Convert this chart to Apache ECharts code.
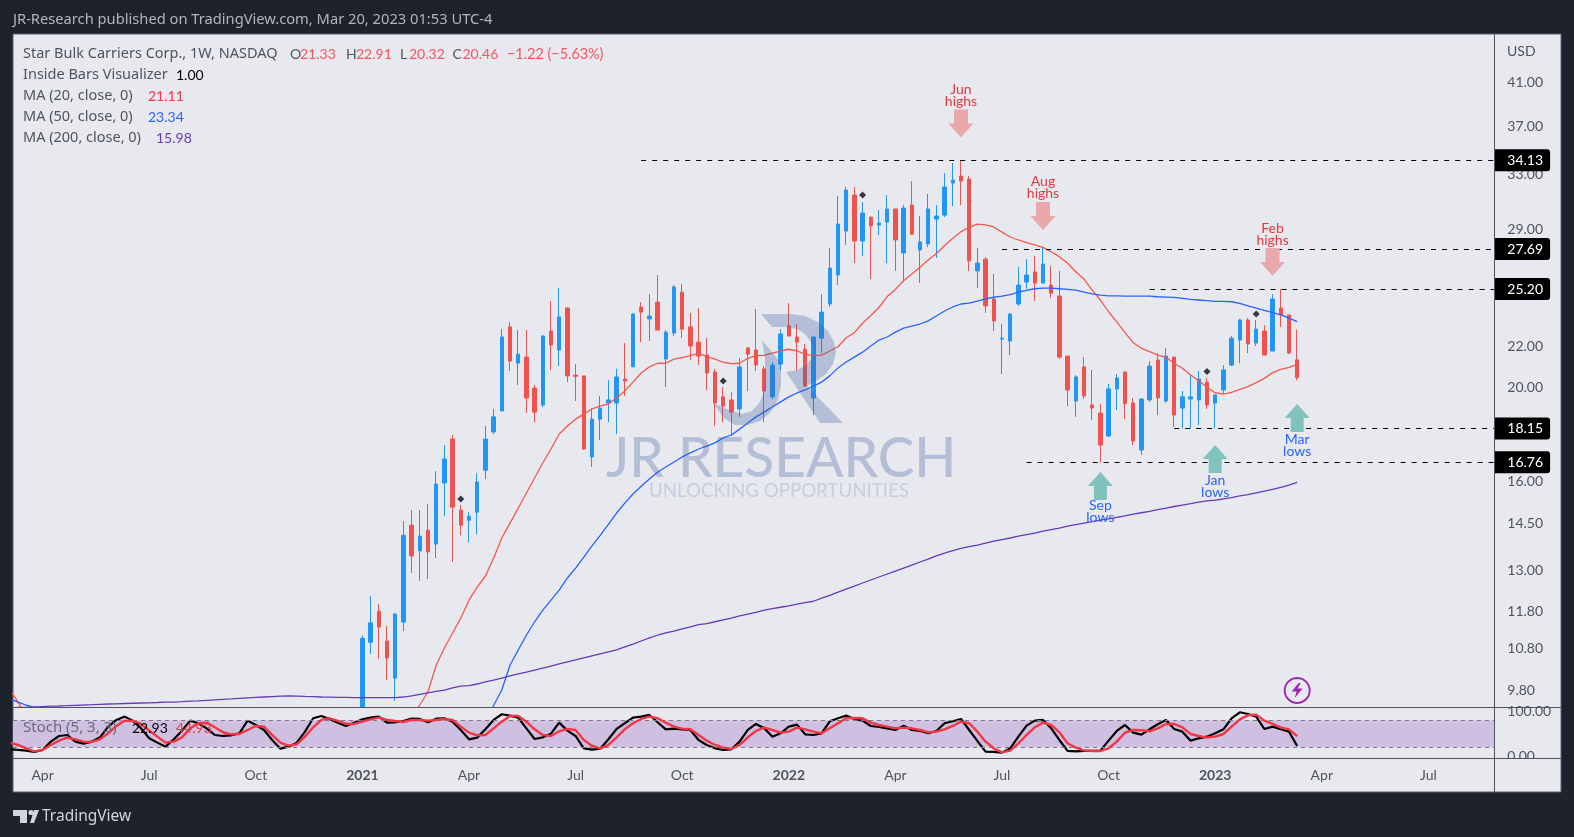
<!DOCTYPE html>
<html>
<head>
<meta charset="utf-8">
<title>SBLK weekly</title>
<style>
html, body { margin: 0; padding: 0; background: #1e222d; }
#chart { width: 1574px; height: 837px; }
</style>
<script src="https://cdn.jsdelivr.net/npm/echarts@6/dist/echarts.min.js"></script>
</head>
<body>
<div id="chart"></div>
<script>
// weekly bars, first candle is the week of Jan 4 2021
const firstWeek = Date.UTC(2021, 0, 4);
const opens = [
    9.42,10.97,11.80,11.00,10.08,11.50,14.45,13.60,14.28,13.82,
    15.96,17.70,14.97,14.62,14.90,16.45,18.00,18.91,23.05,21.17,
    21.47,19.96,19.18,22.83,21.83,24.10,20.58,20.54,16.97,18.55,
    19.27,19.27,20.39,20.98,24.16,23.49,24.44,21.37,22.72,25.02,
    23.05,22.24,21.57,20.73,19.55,19.41,19.00,21.94,21.83,20.88,
    19.55,21.12,23.10,22.51,21.88,19.50,22.45,24.33,26.05,28.89,
    31.45,28.22,29.86,29.30,29.51,30.43,27.43,30.72,27.63,28.03,
    29.72,30.00,32.35,32.89,32.66,26.30,27.04,24.62,22.40,22.30,
    24.33,25.62,26.24,25.56,25.44,24.79,21.52,19.36,20.98,19.18,
    18.82,17.83,19.92,20.73,19.27,17.25,19.41,21.32,19.36,21.47,
    19.04,19.45,19.41,20.24,19.27,19.87,21.07,22.35,23.43,22.19,
    22.83,21.78,24.10,23.71,21.33
];
const closes = [
    11.07,11.48,11.37,10.57,11.72,14.11,13.44,14.08,13.57,15.92,
    16.89,15.08,14.45,14.76,16.00,17.70,18.65,22.51,21.27,21.62,
    19.50,18.86,22.56,22.09,23.60,20.54,20.52,17.29,18.55,19.04,
    19.41,20.49,20.29,23.76,23.87,23.65,22.88,22.77,25.32,22.93,
    22.04,21.52,20.68,19.27,19.13,18.86,20.98,21.62,21.07,19.82,
    21.07,22.67,22.56,22.24,20.05,22.51,23.87,26.48,29.37,31.82,
    28.22,30.14,29.24,29.44,30.43,28.29,30.50,28.68,28.16,30.43,
    29.93,32.05,32.58,32.50,26.92,26.79,24.22,23.38,22.45,23.76,
    25.44,26.05,25.56,26.73,24.96,21.47,19.87,20.49,19.59,19.04,
    17.45,19.92,20.44,19.23,17.62,19.45,21.02,19.50,21.52,18.73,
    19.55,19.55,20.39,19.18,19.64,20.83,22.45,23.43,22.14,22.93,
    21.57,24.62,23.71,21.68,20.46
];
const lows = [
    9.42,10.67,10.55,10.03,9.55,11.26,12.91,12.67,12.73,13.37,
    14.76,13.25,14.11,13.88,14.14,16.11,17.91,18.91,20.78,20.10,
    18.82,18.42,19.09,20.83,21.02,20.24,19.36,17.25,16.57,17.66,
    18.42,17.91,19.59,20.98,22.24,22.30,22.88,20.01,22.56,22.45,
    21.32,21.07,19.87,18.25,18.42,17.83,18.65,19.82,20.78,18.42,
    19.45,20.83,22.56,20.78,20.05,18.73,21.67,24.16,25.44,27.96,
    26.79,27.24,25.80,28.62,26.79,26.30,25.62,28.62,25.56,27.83,
    27.11,29.86,30.65,30.72,26.30,25.26,23.82,22.83,20.63,21.57,
    24.22,25.20,24.50,25.56,24.68,21.37,19.13,18.65,19.45,18.51,
    16.76,17.78,18.95,18.55,17.45,17.05,19.32,18.73,19.27,18.21,
    18.15,18.15,18.29,19.00,18.15,19.69,21.02,21.17,21.67,22.04,
    21.57,21.78,23.05,21.62,20.32
];
const highs = [
    11.15,12.23,12.00,11.40,11.75,14.59,14.97,14.97,15.18,16.41,
    17.45,17.87,15.15,14.90,16.33,18.25,19.00,22.93,23.32,22.88,
    22.88,20.10,22.61,24.50,25.26,24.16,21.12,20.54,19.04,19.59,
    20.34,20.88,22.19,23.82,24.44,24.90,26.05,22.88,25.44,25.50,
    23.82,24.10,22.45,20.88,20.01,19.78,21.42,21.99,24.05,21.02,
    21.22,22.93,24.38,23.21,22.14,22.51,24.90,27.76,31.38,32.05,
    32.05,30.93,29.86,30.36,31.45,30.43,30.72,32.50,29.93,31.53,
    30.72,33.12,33.92,34.13,32.89,27.76,27.17,26.11,23.21,23.82,
    26.55,27.04,27.24,27.85,26.61,26.30,21.52,20.58,21.47,20.83,
    19.23,20.15,20.63,20.73,19.50,19.50,21.27,21.67,21.94,21.47,
    19.82,20.63,20.78,20.44,19.64,21.07,22.56,23.49,23.54,23.43,
    23.15,24.90,25.20,23.71,22.91
];

// moving averages, the *Start value is the week offset of the first item
const ma20EarlyStart = -43;
const ma20Early = [9.80, 9.53, 9.20];
const ma20Start = 6;
const ma20 = [
    9.15,9.46,9.76,10.39,10.82,11.21,11.61,12.11,12.49,12.82,13.37,14.02,14.52,15.04,15.59,16.15,16.73,
    17.29,17.91,18.25,18.55,18.77,19.00,19.13,19.23,19.50,19.82,20.24,20.68,20.98,21.16,21.16,21.37,21.44,
    21.54,21.66,21.49,21.37,21.21,21.14,21.16,21.41,21.54,21.56,21.67,21.78,21.87,21.78,21.62,21.54,21.57,
    21.78,22.00,22.47,22.74,23.25,23.68,24.13,24.76,25.18,25.70,26.11,26.53,26.98,27.41,27.91,28.40,28.85,
    29.15,29.36,29.31,29.17,28.82,28.49,28.29,28.11,27.96,27.80,27.52,27.20,26.78,26.25,25.80,25.14,24.56,
    23.89,23.33,22.74,22.21,21.92,21.75,21.57,21.46,21.16,20.91,20.58,20.31,20.00,19.74,19.68,19.76,19.90,
    20.03,20.22,20.42,20.70,20.86,20.96,21.11
];
const ma50EarlyStart = -43;
const ma50Early = [9.595, 9.527, 9.46, 9.405, 9.30];
const ma50Start = 15;
const ma50 = [
    9.05,9.45,9.80,10.39,10.77,11.15,11.51,11.83,12.11,12.40,12.76,13.06,13.40,13.76,14.11,14.48,14.87,15.22,
    15.55,15.84,16.11,16.37,16.57,16.77,16.97,17.13,17.29,17.41,17.54,17.75,17.87,18.12,18.38,18.65,18.86,
    19.09,19.32,19.55,19.73,19.87,20.05,20.24,20.54,20.93,21.22,21.47,21.72,22.04,22.35,22.51,22.77,22.99,
    23.10,23.21,23.38,23.65,23.93,24.16,24.33,24.38,24.50,24.62,24.72,24.79,24.87,25.02,25.12,25.22,25.26,
    25.26,25.22,25.18,25.14,25.02,24.92,24.84,24.80,24.80,24.79,24.79,24.79,24.79,24.75,24.73,24.71,24.66,
    24.60,24.56,24.52,24.48,24.48,24.46,24.37,24.22,24.09,23.97,23.84,23.71,23.53,23.34
];
const ma200Start = -43;
const ma200 = [
    9.395,9.405,9.41,9.416,9.425,9.434,9.438,9.445,9.454,9.46,9.467,9.476,9.483,9.487,9.494,9.50,9.505,9.51,
    9.516,9.523,9.527,9.534,9.545,9.554,9.565,9.576,9.587,9.598,9.61,9.62,9.63,9.64,9.65,9.66,9.665,9.66,
    9.653,9.65,9.64,9.636,9.63,9.63,9.627,9.627,9.627,9.627,9.627,9.627,9.64,9.665,9.70,9.735,9.77,9.80,9.85,
    9.89,9.90,9.94,9.99,10.03,10.08,10.13,10.18,10.22,10.27,10.32,10.37,10.42,10.47,10.52,10.57,10.62,10.67,
    10.72,10.77,10.85,10.92,11.00,11.08,11.15,11.21,11.26,11.32,11.37,11.43,11.46,11.51,11.56,11.61,11.67,
    11.72,11.77,11.83,11.87,11.91,11.95,12.00,12.04,12.08,12.17,12.25,12.34,12.43,12.52,12.61,12.70,12.79,
    12.88,12.97,13.06,13.15,13.25,13.34,13.44,13.53,13.61,13.68,13.74,13.79,13.85,13.92,13.97,14.02,14.08,
    14.13,14.18,14.25,14.30,14.35,14.42,14.47,14.52,14.57,14.62,14.67,14.72,14.77,14.83,14.88,14.93,14.99,
    15.04,15.10,15.15,15.20,15.26,15.30,15.33,15.37,15.42,15.48,15.53,15.59,15.66,15.72,15.80,15.88,15.98
];

// stochastic %K and %D, same start week as ma200
const stochStart = -43;
const stochK = [
    15.6,14.1,12.6,9.7,14.1,32.6,45.2,47.4,32.6,28.2,32.6,42.2,66,80.8,88.2,79.3,62.2,40,30.4,21.5,37.8,57,
    79.3,73.4,62.2,47.4,45.2,46.7,51.1,79.3,69.6,58.5,36.3,17,21.5,30.4,54.8,84.5,89.6,83,74.8,67.4,74.8,
    82.2,85.9,88.2,74.8,75.6,78.5,83.7,83,75.6,83.7,84.5,77,58.5,37.8,41.5,60,80.8,93.4,90.4,86,
    62.2,38.5,42.2,50.4,74.8,57,45.2,17.8,14.8,17,37.8,60.8,73.4,85.9,88.2,91.9,75.6,60,61.5,60,58.5,36.3,
    25.2,17.8,14.1,15.6,32.6,58.5,71.9,62.2,43.7,51.1,66,70.4,48.9,47.4,51.1,77.8,84.5,90.4,83,79.3,67.4,
    65.2,62.2,58.5,68.2,58.5,56.3,51.1,56.3,73.4,77.8,83,58.5,34.1,10.4,9.7,8.2,17.8,43.7,68.2,79.3,80.8,
    62.2,36.3,11.9,11.1,11.9,11.9,12.6,34.8,56.3,69.6,52.6,48.1,60,71.1,80.7,60.7,54.8,34.8,40,43.7,51.1,
    60,84.4,97.8,94.1,88.2,60.7,65.9,60,54.8,22.93
];
const stochD = [
    30.4,25.2,17.8,11.1,14.1,25.2,34.8,41.5,37.8,32.6,31.9,37.8,51.1,67.4,79.3,78.5,71.9,57,43.7,30.4,32.6,
    42.2,62.2,73.4,74.8,64.5,53.4,48.9,49.6,58.5,67.4,66,47.4,30.4,23.7,26.7,43.7,64.5,80.8,84.5,78.5,71.9,
    71.9,77,82.2,85.9,80.8,78.5,76.3,80.8,80.8,79.3,80.8,83,80.8,66,52.6,46.7,47.4,62.2,77,89.6,89.6,
    77,60,47.4,45.2,55.6,60.8,58.5,36.3,23.7,17,25.2,42.2,60,73.4,83,88.2,84.5,74.8,66,61.5,60,47.4,34.8,
    25.2,19.3,16.3,25.2,42.2,56.3,63.7,58.5,52.6,54.8,63.7,60,54.8,51.1,62.2,73.4,84.5,85.2,84.5,74.8,69.6,
    66,62.2,63.7,62.2,58.5,53.4,54.8,60,67.4,77,73.4,54.8,32.6,17.8,8.9,12.6,28.9,47.4,64.5,74.8,
    69.6,53.3,28.9,19.3,13.3,11.9,11.9,17.8,32.6,52.6,58.5,57.8,55.6,62.2,71.9,71.9,64.4,49.6,45.2,41.5,43.7,
    49.6,65.9,82.2,91.1,92.6,79.3,71.9,64.4,60,44.93
];

// inside bar markers: week offset and price
const insideWeeks = [12, 44, 61, 103, 109];
const insidePrices = [15.37, 20.29, 31.45, 20.75, 23.76];

// horizontal levels drawn from a week out to the price scale
const levelPrices = [34.13, 27.69, 25.20, 18.15, 16.76];
const levelStartWeeks = [34, 78, 96, 99, 81];
const lastClose = 20.46;
const lastWeek = 114;

// arrow annotations
const highWeeks = [73, 83, 111];
const highArrowPrices = [37.22, 29.93, 26.86];
const highNotes = ["Jun\nhighs", "Aug\nhighs", "Feb\nhighs"];
const highNotePrices = [39.76, 32.0, 28.69];
const lowWeeks = [90, 104, 114];
const lowArrowPrices = [15.85, 16.89, 18.60];
const lowNotes = ["Sep\nlows", "Jan\nlows", "Mar\nlows"];
const lowNotePrices = [14.93, 15.83, 17.43];

const priceTicks = [41, 37, 33, 29, 22, 20, 16, 14.5, 13, 11.8, 10.8, 9.8];
const stochTicks = [100, 0];
const timeTickDates = [
    "2020-04-06", "2020-07-06", "2020-10-05", "2021-01-04", "2021-04-05", "2021-07-05", "2021-10-04",
    "2022-01-03", "2022-04-04", "2022-07-04", "2022-10-03", "2023-01-02", "2023-04-03", "2023-07-03"
];
const timeTickLabels = ["Apr", "Jul", "Oct", "2021", "Apr", "Jul", "Oct", "2022", "Apr", "Jul", "Oct", "2023", "Apr", "Jul"];

const FONT = "Lato";
const WORD_FONT = "Noto Sans";
const weekTime = k => firstWeek + k * 7 * 86400000;
const xMin = weekTime(-42.61);
const xMax = weekTime(138.04);
const timeTicks = timeTickDates.map(d => Date.parse(d));

const fromWeek = (start, values) => values.map((v, i) => [weekTime(start + i), v]);
const atWeeks = (weeks, values) => weeks.map((k, i) => [weekTime(k), values[i]]);

const arrowDown = "path://M5.5 0 L19.5 0 L19.5 14 L25 14 L12.5 28 L0 14 L5.5 14 Z";
const arrowUp = "path://M12.5 0 L25 14 L19 14 L19 28 L6 28 L6 14 L0 14 Z";
const bolt = "path://M7 0 L0 9 L5 9 L3 16 L11 6 L6 6 L9 0 Z";

const maLine = (name, data, color) => ({
    name,
    type: "line",
    data,
    symbol: "none",
    silent: true,
    z: 4,
    lineStyle: { color, width: 1.3 }
});

const noteSeries = (name, weeks, prices, notes, color) => ({
    name,
    type: "scatter",
    data: atWeeks(weeks, prices).map((p, i) => ({ value: p, note: notes[i] })),
    symbolSize: 1,
    itemStyle: { color: "transparent", opacity: 1 },
    z: 8,
    label: {
        show: true,
        position: "inside",
        formatter: params => params.data.note,
        color,
        opacity: 1,
        fontFamily: FONT,
        fontSize: 14,
        lineHeight: 12
    }
});

const levelLine = (price, start) => [
    {
        coord: [weekTime(start), price],
        label: { formatter: price.toFixed(2) }
    },
    { coord: [xMax, price] }
];

const text = (x, y, str, color, size, extra) => ({
    type: "text",
    x,
    y,
    silent: true,
    z: 60,
    style: Object.assign(
        {
            text: str,
            fill: color,
            font: (size || 14) + "px " + FONT,
            verticalAlign: "middle"
        },
        extra
    )
});

// wider face for the worded labels, the digits stay in Lato
const words = (x, y, str, color, size) =>
    text(x, y, str, color, size, { font: (size || 14.5) + "px '" + WORD_FONT + "'" });

const rule = (x1, y1, x2, y2) => ({
    type: "line",
    silent: true,
    z: 55,
    shape: { x1, y1, x2, y2 },
    style: { stroke: "#50535e", lineWidth: 1 }
});

const GREY = "#50535e";
const RED = "#f7525f";
const watermark = "rgba(58,95,160,0.3)";

const graphics = [
    { type: "rect", silent: true, z: -10, shape: { x: 13, y: 34, width: 1548, height: 758 },
      style: { fill: "#e8e9ef", stroke: "#5d606b", lineWidth: 1 } },
    // hides what sticks out of the oscillator scale
    { type: "rect", silent: true, z: 50, shape: { x: 1495, y: 759, width: 65, height: 32 },
      style: { fill: "#e8e9ef" } },
    rule(13, 707.5, 1561, 707.5),
    rule(13, 758.5, 1561, 758.5),
    rule(1494.5, 34, 1494.5, 792),

    words(13, 20, "JR-Research published on TradingView.com, Mar 20, 2023 01:53 UTC-4", "#b2b5be", 14.7),
    words(23, 54, "Star Bulk Carriers Corp., 1W, NASDAQ", GREY),
    text(290, 54, "O", GREY), text(300, 54, "21.33", RED),
    text(346, 54, "H", GREY), text(356, 54, "22.91", RED),
    text(400, 54, "L", GREY), text(409, 54, "20.32", RED),
    text(452.6, 54, "C", GREY), text(462.5, 54, "20.46", RED),
    text(507, 54, "\u22121.22 (\u22125.63%)", RED, 14.4),
    words(23, 75, "Inside Bars Visualizer", GREY), text(176, 75, "1.00", "#000000"),
    words(23, 96, "MA (20, close, 0)", GREY), text(148, 96, "21.11", "#f23645"),
    words(23, 117, "MA (50, close, 0)", GREY), text(148, 117, "23.34", "#2962ff"),
    words(23, 138, "MA (200, close, 0)", GREY), text(156, 138, "15.98", "#673ab7"),
    words(23, 728, "Stoch (5, 3, 3)", "#6a6d78", 15), text(132, 728, "22.93", "#000000"), text(176, 728, "44.93", "#f23645"),
    text(1507, 51, "USD", GREY),

    // JR logo and brand text sit on top of the candles
    { type: "polygon", silent: true, z: 70,
      shape: { points: [[761,314],[790,314],[805,316],[818,322],[828,331],[834,342],[836,352],[833,364],[826,374],[816,381],[807,386],[843,423],[820,423],[786,372],[797,370],[806,365],[812,358],[813,350],[811,342],[805,334],[797,329],[786,327],[772,327]] },
      style: { fill: watermark } },
    { type: "polygon", silent: true, z: 70,
      shape: { points: [[762,340],[781,363],[781,385],[778,400],[770,413],[760,421],[748,425],[735,425],[724,418],[713,403],[731,411],[742,414],[752,411],[760,402],[764,392],[765,375],[765,358]] },
      style: { fill: watermark } },
    text(606, 459, "JR RESEARCH", watermark, 55, { font: "500 55px " + FONT }),
    text(649, 491, "UNLOCKING OPPORTUNITIES", "rgba(58,95,160,0.2)", 18.7),

    // TradingView footer
    { type: "polygon", silent: true, z: 60, shape: { points: [[13, 810], [27, 810], [27, 823], [20, 823], [20, 816], [13, 816]] },
      style: { fill: "#d1d4dc" } },
    { type: "circle", silent: true, z: 60, shape: { cx: 31, cy: 812.5, r: 2.6 }, style: { fill: "#d1d4dc" } },
    { type: "polygon", silent: true, z: 60, shape: { points: [[30, 823], [34, 810], [39, 810], [34, 823]] },
      style: { fill: "#d1d4dc" } },
    words(42, 816.5, "TradingView", "#d1d4dc", 15.5)
];

const option = {
    animation: false,
    backgroundColor: "#1e222d",
    textStyle: { fontFamily: FONT },
    graphic: graphics,
    grid: [
        { left: 13, top: 35, width: 1481.3, height: 672 },
        { left: 13, top: 707.3, width: 1481.3, height: 51.4 }
    ],
    xAxis: [
        {
            type: "value",
            gridIndex: 0,
            scale: true,
            min: xMin,
            max: xMax,
            axisLine: { show: false },
            axisTick: { show: false },
            axisLabel: { show: false },
            splitLine: { show: false }
        },
        {
            type: "value",
            gridIndex: 1,
            scale: true,
            min: xMin,
            max: xMax,
            axisLine: { show: false },
            axisTick: { show: false },
            splitLine: { show: false },
            axisLabel: {
                customValues: timeTicks,
                margin: 10,
                color: GREY,
                fontSize: 14,
                fontFamily: FONT,
                hideOverlap: false,
                formatter: value => {
                    const label = timeTickLabels[timeTicks.indexOf(value)];
                    return label && label.length === 4 ? `{b|${label}}` : label;
                },
                rich: { b: { fontWeight: "bold", color: GREY, fontSize: 14, fontFamily: FONT } }
            }
        }
    ],
    yAxis: [
        {
            type: "log",
            logBase: 10,
            gridIndex: 0,
            position: "right",
            min: 9.416,
            max: 45.85,
            axisLine: { show: false },
            axisTick: { show: false },
            splitLine: { show: false },
            axisLabel: {
                customValues: priceTicks,
                margin: 13,
                color: GREY,
                fontSize: 14,
                fontFamily: FONT,
                formatter: value => Number(value).toFixed(2)
            }
        },
        {
            type: "value",
            gridIndex: 1,
            position: "right",
            min: -5.3,
            max: 108.9,
            axisLine: { show: false },
            axisTick: { show: false },
            splitLine: { show: false },
            axisLabel: {
                customValues: stochTicks,
                margin: 13,
                color: GREY,
                fontSize: 14,
                fontFamily: FONT,
                formatter: value => Number(value).toFixed(2)
            }
        }
    ],
    series: [
        {
            name: "SBLK",
            type: "candlestick",
            xAxisIndex: 0,
            yAxisIndex: 0,
            encode: { x: 0, y: [1, 2, 3, 4] },
            barWidth: 4,
            z: 3,
            data: opens.map((o, i) => [weekTime(i), o, closes[i], lows[i], highs[i]]),
            itemStyle: {
                color: "#2196f3",
                color0: "#ef5350",
                borderColor: "#2196f3",
                borderColor0: "#ef5350",
                borderWidth: 1
            }
        },
        maLine("MA 20", fromWeek(ma20Start, ma20), "#f4574c"),
        maLine("MA 20 early", fromWeek(ma20EarlyStart, ma20Early), "#f4574c"),
        maLine("MA 50", fromWeek(ma50Start, ma50), "#2962ff"),
        maLine("MA 50 early", fromWeek(ma50EarlyStart, ma50Early), "#2962ff"),
        maLine("MA 200", fromWeek(ma200Start, ma200), "#673ab7"),
        {
            name: "Inside bars",
            type: "scatter",
            data: atWeeks(insideWeeks, insidePrices),
            symbol: "diamond",
            symbolSize: 7,
            z: 5,
            itemStyle: { color: "#363a45", opacity: 1 }
        },
        {
            name: "Levels",
            type: "line",
            data: [],
            markLine: {
                silent: true,
                symbol: "none",
                animation: false,
                lineStyle: { color: "#000000", type: [5, 6], width: 1 },
                label: {
                    show: true,
                    position: "end",
                    distance: 0,
                    color: "#ffffff",
                    backgroundColor: "#000000",
                    fontFamily: FONT,
                    fontSize: 14,
                    padding: [4, 7, 4, 13],
                    borderRadius: [0, 3, 3, 0]
                },
                data: levelPrices
                    .map((p, i) => levelLine(p, levelStartWeeks[i]))
                    .concat([
                        [
                            {
                                coord: [weekTime(lastWeek), lastClose],
                                lineStyle: { opacity: 0 },
                                label: { formatter: lastClose.toFixed(2), backgroundColor: "#f7443a" }
                            },
                            { coord: [xMax, lastClose], lineStyle: { opacity: 0 } }
                        ]
                    ])
            }
        },
        {
            name: "High arrows",
            type: "scatter",
            data: atWeeks(highWeeks, highArrowPrices),
            symbol: arrowDown,
            symbolSize: [25, 28],
            z: 6,
            itemStyle: { color: "#e8a8ac", opacity: 1 }
        },
        {
            name: "Low arrows",
            type: "scatter",
            data: atWeeks(lowWeeks, lowArrowPrices),
            symbol: arrowUp,
            symbolSize: [25, 28],
            z: 6,
            itemStyle: { color: "#80c3bc", opacity: 1 }
        },
        noteSeries("High notes", highWeeks, highNotePrices, highNotes, "#e5383b"),
        noteSeries("Low notes", lowWeeks, lowNotePrices, lowNotes, "#2962ff"),
        {
            name: "Event",
            type: "scatter",
            data: [[weekTime(lastWeek), 9.79]],
            symbolSize: 25,
            z: 6,
            itemStyle: { color: "#e8e9ef", borderColor: "#9c27b0", borderWidth: 2, opacity: 1, shadowColor: "#ffffff", shadowBlur: 2 }
        },
        {
            name: "Event bolt",
            type: "scatter",
            data: [[weekTime(lastWeek), 9.79]],
            symbol: bolt,
            symbolSize: [11, 15],
            z: 7,
            itemStyle: { color: "#9c27b0", opacity: 1 }
        },
        {
            name: "Stoch %K",
            type: "line",
            xAxisIndex: 1,
            yAxisIndex: 1,
            data: fromWeek(stochStart, stochK),
            symbol: "none",
            z: 4,
            lineStyle: { color: "#000000", width: 2.2 },
            markArea: {
                silent: true,
                itemStyle: { color: "#cfbfe0" },
                data: [[{ yAxis: 80 }, { yAxis: 20 }]]
            },
            markLine: {
                silent: true,
                symbol: "none",
                animation: false,
                label: { show: false },
                lineStyle: { color: "#787b86", type: [4, 4], width: 1 },
                data: [{ yAxis: 80 }, { yAxis: 20 }]
            }
        },
        {
            name: "Stoch %D",
            type: "line",
            xAxisIndex: 1,
            yAxisIndex: 1,
            data: fromWeek(stochStart, stochD),
            symbol: "none",
            z: 5,
            lineStyle: { color: "#f23645", width: 2.4 }
        }
    ]
};

const chart = echarts.init(document.getElementById("chart"));
chart.setOption(option);
</script>
</body>
</html>
